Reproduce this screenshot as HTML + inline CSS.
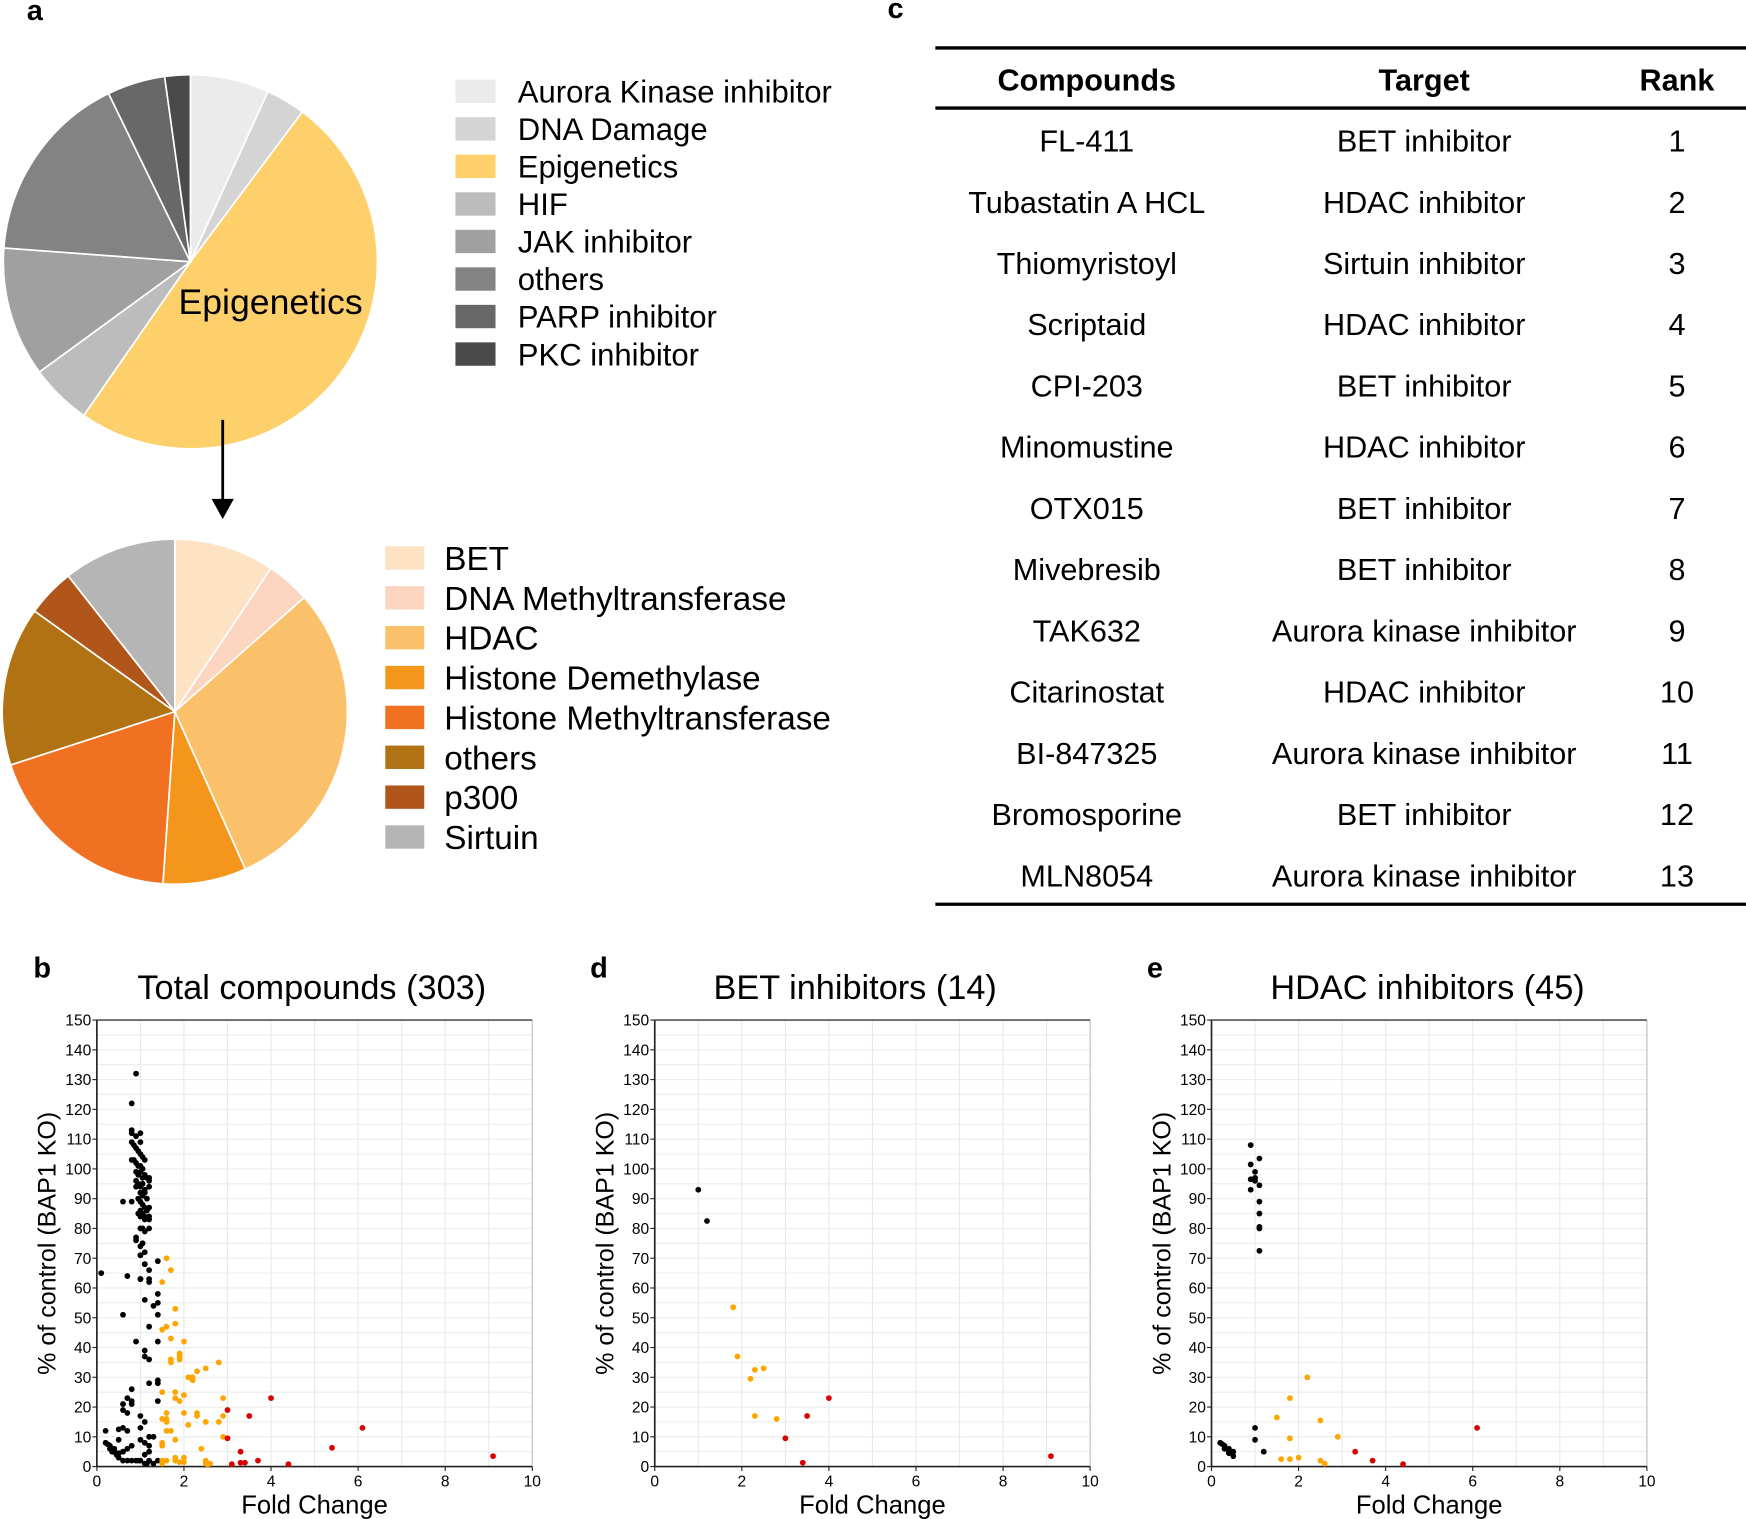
<!DOCTYPE html>
<html><head><meta charset="utf-8"><style>
html,body{margin:0;padding:0;background:#fff}
svg{display:block;font-family:"Liberation Sans",Arial,sans-serif}
</style></head><body>
<svg id="fig" width="1746" height="1519" viewBox="0 0 1568 1364">
<g id="static"></g>
</svg>
<script>
// ---- Pie data ----
const topLabels=["Aurora Kinase inhibitor","DNA Damage","Epigenetics","HIF","JAK inhibitor","others","PARP inhibitor","PKC inhibitor"];
const topValues=[6.8,3.4,49.4,5.3,11.2,16.6,5.0,2.2];
const topColors=["#ebebeb","#d4d4d4","#fdd06b","#bcbcbc","#a0a0a0","#838383","#686868","#4a4a4a"];
const botLabels=["BET","DNA Methyltransferase","HDAC","Histone Demethylase","Histone Methyltransferase","others","p300","Sirtuin"];
const botValues=[9.4,4.1,29.8,7.8,18.9,14.9,4.5,10.6];
const botColors=["#fde3c4","#fbd5c0","#fac06a","#f5961c","#f07121","#b07213","#b0561a","#b5b5b5"];
// ---- Table data ----
const compounds=["FL-411","Tubastatin A HCL","Thiomyristoyl","Scriptaid","CPI-203","Minomustine","OTX015","Mivebresib","TAK632","Citarinostat","BI-847325","Bromosporine","MLN8054"];
const targets=["BET inhibitor","HDAC inhibitor","Sirtuin inhibitor","HDAC inhibitor","BET inhibitor","HDAC inhibitor","BET inhibitor","BET inhibitor","Aurora kinase inhibitor","HDAC inhibitor","Aurora kinase inhibitor","BET inhibitor","Aurora kinase inhibitor"];
const ranks=[1,2,3,4,5,6,7,8,9,10,11,12,13];
// ---- Scatter data ----
const xTicks=[0,2,4,6,8,10];
const yTicks=[0,10,20,30,40,50,60,70,80,90,100,110,120,130,140,150];
const bBlackX=[0.1,0.9,0.8,0.8,0.8,1.0,0.9,0.8,1.0,0.85,0.9,0.95,1.0,1.05,0.8,0.85,0.9,0.95,1.0,1.05,1.1,0.9,0.95,1.0,1.05,1.1,1.15,1.2,0.9,0.95,1.0,1.05,1.1,1.2,0.9,1.0,1.05,1.1,1.15,1.2,0.95,1.0,1.05,1.1,1.15,1.2,1.0,1.05,1.1,1.2,0.95,1.0,1.1,1.2,1.0,1.05,1.1,1.2,0.6,0.8,0.9,0.9,1.0,1.05,1.1,1.0,1.1,1.0,
0.2,0.2,0.25,0.3,0.3,0.35,0.4,0.4,0.45,0.5,0.5,0.5,0.5,0.6,0.6,0.6,0.6,0.6,0.6,0.7,0.7,0.7,0.7,0.7,0.8,0.8,0.8,0.8,0.8,0.7,0.9,0.9,1.0,1.0,1.0,1.0,1.0,1.0,1.1,1.1,1.1,1.1,1.1,1.1,1.1,1.2,1.2,1.2,1.2,1.2,1.2,1.2,1.2,1.2,1.2,1.3,1.3,1.3,1.4,1.4,1.4,1.4,1.4,1.4,1.4,1.4,1.4,1.1,1.15,0.95];
const bBlackY=[65,132,122,113,112,112,111,109,109,108,107,106,105,104,103,103,102,101,101,100,103,99,98,99,97,98,97,97,96,95,94,95,93,96,94,92,91,92,90,94,90,89,88,87,86,87,86,85,84,84,85,84,83,83,80,80,79,80,89,89,77,76,74,75,72,71,68,63,
12,8,7.5,7,6,5,5,6,4,3,4.5,9,12.5,13,5,2,21,19,51,64,23,18,12,6,7,21,22,26,2,2,42,2,71,63,17,13,9,2,1,68,56,39,37,15,8,2,66,62,63,47,36,28,10,7,5,1,10,54,2,69,58,55,51,42,29,28,22,4,1,2,1.5];
const bOrangeX=[1.6,1.7,1.5,1.8,1.6,1.5,1.8,1.7,2.0,1.9,1.9,1.9,1.7,1.7,2.8,2.5,2.3,2.1,2.2,2.2,1.5,1.8,2.0,2.9,1.8,1.9,2.0,1.6,2.3,2.3,2.9,1.5,1.6,2.5,2.8,1.6,2.1,1.6,1.7,1.8,2.9,1.5,1.5,2.4,1.8,2.0,1.6,1.5,1.8,1.9,2.0,2.5,2.5,2.6,1.5,2.55];
const bOrangeY=[70,66,62,53,47,46,48,43,42,38,37,36,35,36,35,33,32,30,30,29,25,25,24,23,23,22,18,18,18,17,17,16,16,15,15,15,14,12,12,9,10,8,7,6,3,3,2,2,2,1.5,1.5,2,1,1,1,0.8];
const bRedX=[4.0,3.0,3.5,6.1,3.0,5.4,3.3,9.1,3.7,3.3,3.4,3.1,4.4];
const bRedY=[23,19,17,13,9.5,6.3,5,3.5,2,1.3,1.3,0.8,0.8];
const dBlackX=[1.0,1.2];
const dBlackY=[93,82.5];
const dOrangeX=[1.8,1.9,2.3,2.5,2.2,2.3,2.8];
const dOrangeY=[53.5,37,32.5,33,29.5,17,16];
const dRedX=[4.0,3.5,3.0,3.4,9.1];
const dRedY=[23,17,9.5,1.3,3.5];
const eBlackX=[0.9,0.9,1.1,1.0,0.9,1.0,1.0,1.1,0.9,1.1,1.1,1.1,1.1,1.1,1.0,1.0,1.2,0.2,0.25,0.3,0.3,0.4,0.4,0.5,0.5,0.4];
const eBlackY=[108,101.5,103.5,99,96.5,96,97,94.5,93,89,85,80.5,80,72.5,13,9,5,8,7.5,7,6,5,6,5,3.5,4.5];
const eOrangeX=[2.2,1.8,1.5,2.5,1.8,2.9,1.6,1.8,2.0,2.5,2.6];
const eOrangeY=[30,23,16.5,15.5,9.5,10,2.5,2.5,3,2,1];
const eRedX=[6.1,3.3,3.7,4.4];
const eRedY=[13,5,2,0.8];

const NS="http://www.w3.org/2000/svg";
const svg=document.getElementById('fig');
function mk(tag,attrs,parent,text){const e=document.createElementNS(NS,tag);for(const k in attrs)e.setAttribute(k,attrs[k]);if(text!==undefined)e.textContent=text;(parent||svg).appendChild(e);return e;}

[["a",24,18],["c",797,16],["b",30,878],["d",530,878],["e",1030,878]].forEach(p=>{
  const t=mk('text',{x:p[1],y:p[2],'font-size':26,'font-weight':'bold'},svg,p[0]);
  
  
});

function pie(cx,cy,r,vals,cols,name){
  const g=mk('g',{});
  
  
  const tot=vals.reduce((a,b)=>a+b,0);let a0=0;
  vals.forEach((v,i)=>{
    const a1=a0+v/tot*2*Math.PI;
    const x0=cx+r*Math.sin(a0),y0=cy-r*Math.cos(a0),x1=cx+r*Math.sin(a1),y1=cy-r*Math.cos(a1);
    const p=mk('path',{d:`M${cx},${cy}L${x0},${y0}A${r},${r} 0 ${a1-a0>Math.PI?1:0} 1 ${x1},${y1}Z`,fill:cols[i],stroke:'#fff','stroke-width':1.5},g);
    
    
    a0=a1;
  });
}
pie(171,235,168,topValues,topColors,'top-pie');
const epi=mk('text',{x:243,y:282,'font-size':32,'text-anchor':'middle'},svg,'Epigenetics');


pie(157,639,155,botValues,botColors,'epigenetics-pie');

const ar=mk('g',{});


mk('line',{x1:200,y1:377,x2:200,y2:452,stroke:'#000','stroke-width':2.5},ar);
mk('path',{d:'M190,448 L210,448 L200,466 Z',fill:'#000'},ar);

function legend(x,y0,dy,labels,cols,fs,sw,sh,tx,name){
  labels.forEach((l,i)=>{
    const g=mk('g',{});
    
    
    const y=y0+i*dy;
    mk('rect',{x:x,y:y-sh/2,width:sw,height:sh,fill:cols[i]},g);
    mk('text',{x:tx,y:y+fs*0.36,'font-size':fs},g,l);
  });
}
legend(409,82,33.7,topLabels,topColors,27.9,36,21,465,'top-legend');
legend(346,501,35.8,botLabels,botColors,29.9,35,21,399,'epi-legend');

const tb=mk('g',{});


mk('line',{x1:840,y1:43,x2:1568,y2:43,stroke:'#000','stroke-width':3},tb);
mk('line',{x1:840,y1:97,x2:1568,y2:97,stroke:'#000','stroke-width':3},tb);
mk('line',{x1:840,y1:812,x2:1568,y2:812,stroke:'#000','stroke-width':3},tb);
const cols=[976,1279,1506];
["Compounds","Target","Rank"].forEach((h,i)=>{
  const t=mk('text',{x:cols[i],y:81,'font-size':27.5,'font-weight':'bold','text-anchor':'middle'},tb,h);
  
  
});
compounds.forEach((c,i)=>{
  const y=136+i*55;
  const r=mk('g',{},tb);
  
  
  mk('text',{x:cols[0],y:y,'font-size':27.5,'text-anchor':'middle'},r,c);
  mk('text',{x:cols[1],y:y,'font-size':27.5,'text-anchor':'middle'},r,targets[i]);
  mk('text',{x:cols[2],y:y,'font-size':27.5,'text-anchor':'middle'},r,ranks[i]);
});

function scatter(left,title,tcx,series,name){
  const right=left+391,top=916,bottom=1317;
  const g=mk('g',{});
  
  
  const sx=v=>left+(v/10)*(right-left), sy=v=>bottom-(v/150)*(bottom-top);
  for(let v=1;v<10;v++) mk('line',{x1:sx(v),y1:top,x2:sx(v),y2:bottom,stroke:'#e8e8e8','stroke-width':1},g);
  for(let v=5;v<150;v+=5) mk('line',{x1:left,y1:sy(v),x2:right,y2:sy(v),stroke:'#ececec','stroke-width':1},g);
  mk('line',{x1:right,y1:top,x2:right,y2:bottom,stroke:'#bbb','stroke-width':1},g);
  mk('line',{x1:left,y1:top,x2:right,y2:top,stroke:'#555','stroke-width':1.5},g);
  mk('line',{x1:left,y1:top,x2:left,y2:bottom,stroke:'#222','stroke-width':1.5},g);
  mk('line',{x1:left,y1:bottom,x2:right,y2:bottom,stroke:'#222','stroke-width':1.5},g);
  yTicks.forEach(v=>{
    mk('line',{x1:left-4,y1:sy(v),x2:left,y2:sy(v),stroke:'#222'},g);
    const t=mk('text',{x:left-5,y:sy(v)+5,'font-size':14,'text-anchor':'end'},g,v);
    
    
  });
  xTicks.forEach(v=>{
    mk('line',{x1:sx(v),y1:bottom,x2:sx(v),y2:bottom+4,stroke:'#222'},g);
    const t=mk('text',{x:sx(v),y:bottom+18,'font-size':14,'text-anchor':'middle'},g,v);
    
    
  });
  const tt=mk('text',{x:tcx,y:897,'font-size':30.8,'text-anchor':'middle'},g,title);
  
  
  const xl=mk('text',{x:(left+right)/2,y:1359,'font-size':23,'text-anchor':'middle'},g,'Fold Change');
  
  
  const yl=mk('text',{x:0,y:0,'font-size':22.5,'text-anchor':'middle',transform:`translate(${left-37},${(top+bottom)/2}) rotate(-90)`},g,'% of control (BAP1 KO)');
  
  
  series.forEach(s=>{
    s.x.forEach((xv,i)=>{
      const c=mk('circle',{cx:sx(xv),cy:sy(s.y[i]),r:2.6,fill:s.c},g);
      
      
    });
  });
}
scatter(87,'Total compounds (303)',280,[{x:bBlackX,y:bBlackY,c:'#000'},{x:bOrangeX,y:bOrangeY,c:'#ffa500'},{x:bRedX,y:bRedY,c:'#d90000'}],'total-compounds-scatter');
scatter(588,'BET inhibitors (14)',768,[{x:dBlackX,y:dBlackY,c:'#000'},{x:dOrangeX,y:dOrangeY,c:'#ffa500'},{x:dRedX,y:dRedY,c:'#d90000'}],'bet-inhibitors-scatter');
scatter(1088,'HDAC inhibitors (45)',1282,[{x:eBlackX,y:eBlackY,c:'#000'},{x:eOrangeX,y:eOrangeY,c:'#ffa500'},{x:eRedX,y:eRedY,c:'#d90000'}],'hdac-inhibitors-scatter');
</script>
</body></html>
